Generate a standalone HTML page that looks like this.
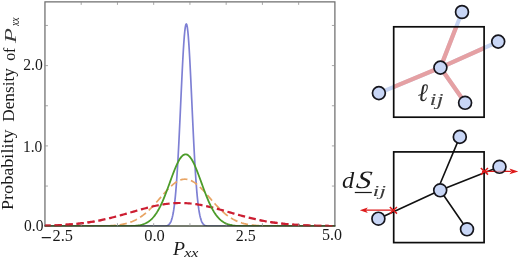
<!DOCTYPE html><html><head><meta charset="utf-8"><style>html,body{margin:0;padding:0;background:#fff;}svg{display:block;}</style></head><body><svg width="520" height="259" viewBox="0 0 520 259">
<rect width="520" height="259" fill="#fff"/>
<defs>
<clipPath id="ax"><rect x="44.95" y="1.9" width="289.95" height="224.29999999999998"/></clipPath>
<clipPath id="bs"><rect x="44.95" y="221" width="289.95" height="5.4999999999999885"/></clipPath>
<clipPath id="b1"><rect x="393.7" y="26.8" width="90.40000000000003" height="90.4"/></clipPath>
</defs>
<g clip-path="url(#ax)" fill="none" stroke-linejoin="round">
<path d="M44.95,226.20 126.30,226.20 126.80,226.20 127.30,226.20 127.80,226.20 128.30,226.20 128.80,226.20 129.30,226.20 129.80,226.20 130.30,226.20 130.80,226.20 131.30,226.20 131.80,226.20 132.30,226.20 132.80,226.20 133.30,226.20 133.80,226.20 134.30,226.20 134.80,226.20 135.30,226.20 135.80,226.20 136.30,226.20 136.80,226.20 137.30,226.20 137.80,226.20 138.30,226.20 138.80,226.20 139.30,226.20 139.80,226.20 140.30,226.20 140.80,226.20 141.30,226.20 141.80,226.20 142.30,226.20 142.80,226.20 143.30,226.20 143.80,226.20 144.30,226.20 144.80,226.20 145.30,226.20 145.80,226.20 146.30,226.20 146.80,226.20 147.30,226.20 147.80,226.20 148.30,226.20 148.80,226.20 149.30,226.20 149.80,226.20 150.30,226.20 150.80,226.20 151.30,226.20 151.80,226.20 152.30,226.20 152.80,226.20 153.30,226.20 153.80,226.20 154.30,226.20 154.80,226.20 155.30,226.20 155.80,226.20 156.30,226.20 156.80,226.20 157.30,226.20 157.80,226.20 158.30,226.20 158.80,226.20 159.30,226.20 159.80,226.20 160.30,226.20 160.80,226.19 161.30,226.19 161.80,226.19 162.30,226.18 162.80,226.17 163.30,226.16 163.80,226.14 164.30,226.11 164.80,226.07 165.30,226.02 165.80,225.95 166.30,225.86 166.80,225.73 167.30,225.56 167.80,225.34 168.30,225.05 168.80,224.67 169.30,224.18 169.80,223.56 170.30,222.79 170.80,221.81 171.30,220.60 171.80,219.12 172.30,217.31 172.80,215.13 173.30,212.53 173.80,209.45 174.30,205.83 174.80,201.64 175.30,196.81 175.80,191.32 176.30,185.13 176.80,178.22 177.30,170.59 177.80,162.27 178.30,153.28 178.80,143.69 179.30,133.58 179.80,123.06 180.30,112.25 180.80,101.31 181.30,90.40 181.80,79.72 182.30,69.45 182.80,59.79 183.30,50.94 183.80,43.09 184.30,36.40 184.80,31.03 185.30,27.10 185.80,24.70 186.30,23.90 186.80,24.70 187.30,27.10 187.80,31.03 188.30,36.40 188.80,43.09 189.30,50.94 189.80,59.79 190.30,69.45 190.80,79.72 191.30,90.40 191.80,101.31 192.30,112.25 192.80,123.06 193.30,133.58 193.80,143.69 194.30,153.28 194.80,162.27 195.30,170.59 195.80,178.22 196.30,185.13 196.80,191.32 197.30,196.81 197.80,201.64 198.30,205.83 198.80,209.45 199.30,212.53 199.80,215.13 200.30,217.31 200.80,219.12 201.30,220.60 201.80,221.81 202.30,222.79 202.80,223.56 203.30,224.18 203.80,224.67 204.30,225.05 204.80,225.34 205.30,225.56 205.80,225.73 206.30,225.86 206.80,225.95 207.30,226.02 207.80,226.07 208.30,226.11 208.80,226.14 209.30,226.16 209.80,226.17 210.30,226.18 210.80,226.19 211.30,226.19 211.80,226.19 212.30,226.20 212.80,226.20 213.30,226.20 213.80,226.20 214.30,226.20 214.80,226.20 215.30,226.20 215.80,226.20 216.30,226.20 216.80,226.20 217.30,226.20 217.80,226.20 218.30,226.20 218.80,226.20 219.30,226.20 219.80,226.20 220.30,226.20 220.80,226.20 221.30,226.20 221.80,226.20 222.30,226.20 222.80,226.20 223.30,226.20 223.80,226.20 224.30,226.20 224.80,226.20 225.30,226.20 225.80,226.20 226.30,226.20 226.80,226.20 227.30,226.20 227.80,226.20 228.30,226.20 228.80,226.20 229.30,226.20 229.80,226.20 230.30,226.20 230.80,226.20 231.30,226.20 231.80,226.20 232.30,226.20 232.80,226.20 233.30,226.20 233.80,226.20 234.30,226.20 234.80,226.20 235.30,226.20 235.80,226.20 236.30,226.20 236.80,226.20 237.30,226.20 237.80,226.20 238.30,226.20 238.80,226.20 239.30,226.20 239.80,226.20 240.30,226.20 240.80,226.20 241.30,226.20 241.80,226.20 242.30,226.20 242.80,226.20 243.30,226.20 243.80,226.20 244.30,226.20 244.80,226.20 245.30,226.20 245.80,226.20 246.30,226.20 334.90,226.20" stroke="#7e80d4" stroke-width="1.7" stroke-linejoin="round"/>
<path d="M44.95,226.20 46.07,226.20 47.19,226.20 48.31,226.20 49.43,226.20 50.55,226.20 51.67,226.20 52.79,226.20 53.91,226.20 55.03,226.20 56.14,226.20 57.26,226.20 58.38,226.20 59.50,226.20 60.62,226.20 61.74,226.20 62.86,226.20 63.98,226.20 65.10,226.20 66.22,226.20 67.34,226.20 68.46,226.20 69.58,226.20 70.70,226.20 71.82,226.20 72.94,226.20 74.06,226.20 75.18,226.20 76.30,226.20 77.42,226.20 78.53,226.20 79.65,226.20 80.77,226.19 81.89,226.19 83.01,226.19 84.13,226.19 85.25,226.19 86.37,226.18 87.49,226.18 88.61,226.18 89.73,226.17 90.85,226.17 91.97,226.16 93.09,226.16 94.21,226.15 95.33,226.14 96.45,226.13 97.57,226.12 98.69,226.10 99.81,226.08 100.92,226.06 102.04,226.04 103.16,226.01 104.28,225.98 105.40,225.95 106.52,225.91 107.64,225.87 108.76,225.81 109.88,225.76 111.00,225.69 112.12,225.62 113.24,225.53 114.36,225.44 115.48,225.33 116.60,225.22 117.72,225.08 118.84,224.94 119.96,224.77 121.08,224.59 122.20,224.39 123.31,224.17 124.43,223.93 125.55,223.67 126.67,223.37 127.79,223.05 128.91,222.71 130.03,222.33 131.15,221.92 132.27,221.48 133.39,221.00 134.51,220.48 135.63,219.93 136.75,219.33 137.87,218.70 138.99,218.02 140.11,217.31 141.23,216.55 142.35,215.74 143.47,214.90 144.59,214.01 145.70,213.08 146.82,212.11 147.94,211.09 149.06,210.03 150.18,208.94 151.30,207.81 152.42,206.65 153.54,205.45 154.66,204.23 155.78,202.99 156.90,201.72 158.02,200.44 159.14,199.15 160.26,197.86 161.38,196.56 162.50,195.27 163.62,193.98 164.74,192.72 165.86,191.47 166.98,190.26 168.09,189.09 169.21,187.95 170.33,186.86 171.45,185.82 172.57,184.83 173.69,183.91 174.81,183.06 175.93,182.29 177.05,181.59 178.17,180.98 179.29,180.45 180.41,180.01 181.53,179.67 182.65,179.41 183.77,179.26 184.89,179.20 186.01,179.24 187.13,179.38 188.25,179.61 189.37,179.94 190.48,180.35 191.60,180.86 192.72,181.46 193.84,182.14 194.96,182.90 196.08,183.73 197.20,184.64 198.32,185.61 199.44,186.64 200.56,187.72 201.68,188.85 202.80,190.03 203.92,191.23 205.04,192.47 206.16,193.73 207.28,195.01 208.40,196.30 209.52,197.60 210.64,198.90 211.76,200.19 212.87,201.46 213.99,202.73 215.11,203.98 216.23,205.20 217.35,206.40 218.47,207.57 219.59,208.71 220.71,209.81 221.83,210.88 222.95,211.90 224.07,212.88 225.19,213.83 226.31,214.72 227.43,215.58 228.55,216.39 229.67,217.16 230.79,217.89 231.91,218.57 233.03,219.21 234.15,219.81 235.26,220.37 236.38,220.89 237.50,221.38 238.62,221.83 239.74,222.25 240.86,222.63 241.98,222.99 243.10,223.31 244.22,223.61 245.34,223.88 246.46,224.13 247.58,224.35 248.70,224.56 249.82,224.74 250.94,224.91 252.06,225.06 253.18,225.19 254.30,225.31 255.42,225.42 256.54,225.52 257.65,225.60 258.77,225.68 259.89,225.74 261.01,225.80 262.13,225.86 263.25,225.90 264.37,225.94 265.49,225.98 266.61,226.01 267.73,226.04 268.85,226.06 269.97,226.08 271.09,226.10 272.21,226.11 273.33,226.13 274.45,226.14 275.57,226.15 276.69,226.15 277.81,226.16 278.93,226.17 280.04,226.17 281.16,226.18 282.28,226.18 283.40,226.18 284.52,226.19 285.64,226.19 286.76,226.19 287.88,226.19 289.00,226.19 290.12,226.19 291.24,226.20 292.36,226.20 293.48,226.20 294.60,226.20 295.72,226.20 296.84,226.20 297.96,226.20 299.08,226.20 300.20,226.20 301.32,226.20 302.43,226.20 303.55,226.20 304.67,226.20 305.79,226.20 306.91,226.20 308.03,226.20 309.15,226.20 310.27,226.20 311.39,226.20 312.51,226.20 313.63,226.20 314.75,226.20 315.87,226.20 316.99,226.20 318.11,226.20 319.23,226.20 320.35,226.20 321.47,226.20 322.59,226.20 323.71,226.20 324.82,226.20 325.94,226.20 327.06,226.20 328.18,226.20 329.30,226.20 330.42,226.20 331.54,226.20 332.66,226.20 333.78,226.20 334.90,226.20" stroke="#e8a464" stroke-width="1.7" stroke-dasharray="7.3,3.72" stroke-dashoffset="2.44"/>
<path d="M44.95,225.72 46.07,225.69 47.19,225.65 48.31,225.62 49.43,225.58 50.55,225.54 51.67,225.50 52.79,225.46 53.91,225.41 55.03,225.36 56.14,225.31 57.26,225.26 58.38,225.20 59.50,225.14 60.62,225.08 61.74,225.02 62.86,224.95 63.98,224.88 65.10,224.80 66.22,224.72 67.34,224.64 68.46,224.56 69.58,224.47 70.70,224.38 71.82,224.28 72.94,224.18 74.06,224.07 75.18,223.96 76.30,223.85 77.42,223.73 78.53,223.61 79.65,223.48 80.77,223.35 81.89,223.21 83.01,223.07 84.13,222.93 85.25,222.77 86.37,222.62 87.49,222.45 88.61,222.29 89.73,222.11 90.85,221.94 91.97,221.75 93.09,221.56 94.21,221.37 95.33,221.17 96.45,220.96 97.57,220.75 98.69,220.54 99.81,220.31 100.92,220.09 102.04,219.86 103.16,219.62 104.28,219.37 105.40,219.12 106.52,218.87 107.64,218.61 108.76,218.35 109.88,218.08 111.00,217.81 112.12,217.53 113.24,217.25 114.36,216.96 115.48,216.67 116.60,216.37 117.72,216.07 118.84,215.77 119.96,215.47 121.08,215.16 122.20,214.85 123.31,214.53 124.43,214.22 125.55,213.90 126.67,213.58 127.79,213.26 128.91,212.94 130.03,212.61 131.15,212.29 132.27,211.96 133.39,211.64 134.51,211.32 135.63,210.99 136.75,210.67 137.87,210.35 138.99,210.03 140.11,209.72 141.23,209.41 142.35,209.10 143.47,208.79 144.59,208.49 145.70,208.19 146.82,207.90 147.94,207.61 149.06,207.33 150.18,207.05 151.30,206.78 152.42,206.52 153.54,206.26 154.66,206.01 155.78,205.77 156.90,205.54 158.02,205.31 159.14,205.10 160.26,204.89 161.38,204.69 162.50,204.51 163.62,204.33 164.74,204.16 165.86,204.00 166.98,203.86 168.09,203.72 169.21,203.60 170.33,203.48 171.45,203.38 172.57,203.29 173.69,203.21 174.81,203.15 175.93,203.09 177.05,203.05 178.17,203.02 179.29,203.01 180.41,203.00 181.53,203.01 182.65,203.03 183.77,203.06 184.89,203.10 186.01,203.16 187.13,203.23 188.25,203.31 189.37,203.40 190.48,203.50 191.60,203.62 192.72,203.75 193.84,203.88 194.96,204.03 196.08,204.19 197.20,204.36 198.32,204.54 199.44,204.73 200.56,204.93 201.68,205.14 202.80,205.36 203.92,205.58 205.04,205.82 206.16,206.06 207.28,206.31 208.40,206.57 209.52,206.84 210.64,207.11 211.76,207.39 212.87,207.67 213.99,207.96 215.11,208.25 216.23,208.55 217.35,208.85 218.47,209.16 219.59,209.47 220.71,209.78 221.83,210.10 222.95,210.41 224.07,210.73 225.19,211.06 226.31,211.38 227.43,211.70 228.55,212.03 229.67,212.35 230.79,212.68 231.91,213.00 233.03,213.32 234.15,213.64 235.26,213.96 236.38,214.28 237.50,214.59 238.62,214.91 239.74,215.22 240.86,215.53 241.98,215.83 243.10,216.13 244.22,216.43 245.34,216.72 246.46,217.02 247.58,217.30 248.70,217.58 249.82,217.86 250.94,218.13 252.06,218.40 253.18,218.66 254.30,218.92 255.42,219.17 256.54,219.42 257.65,219.66 258.77,219.90 259.89,220.13 261.01,220.36 262.13,220.58 263.25,220.79 264.37,221.00 265.49,221.21 266.61,221.41 267.73,221.60 268.85,221.79 269.97,221.97 271.09,222.15 272.21,222.32 273.33,222.49 274.45,222.65 275.57,222.80 276.69,222.95 277.81,223.10 278.93,223.24 280.04,223.38 281.16,223.51 282.28,223.63 283.40,223.76 284.52,223.87 285.64,223.99 286.76,224.09 287.88,224.20 289.00,224.30 290.12,224.39 291.24,224.49 292.36,224.57 293.48,224.66 294.60,224.74 295.72,224.82 296.84,224.89 297.96,224.96 299.08,225.03 300.20,225.09 301.32,225.16 302.43,225.21 303.55,225.27 304.67,225.32 305.79,225.37 306.91,225.42 308.03,225.47 309.15,225.51 310.27,225.55 311.39,225.59 312.51,225.63 313.63,225.66 314.75,225.69 315.87,225.73 316.99,225.76 318.11,225.78 319.23,225.81 320.35,225.84 321.47,225.86 322.59,225.88 323.71,225.90 324.82,225.92 325.94,225.94 327.06,225.96 328.18,225.97 329.30,225.99 330.42,226.00 331.54,226.02 332.66,226.03 333.78,226.04 334.90,226.05" stroke="#cc1e32" stroke-width="2.2" stroke-dasharray="7.3,3.72" stroke-dashoffset="1.45"/>
<path d="M44.95,226.20 46.07,226.20 47.19,226.20 48.31,226.20 49.43,226.20 50.55,226.20 51.67,226.20 52.79,226.20 53.91,226.20 55.03,226.20 56.14,226.20 57.26,226.20 58.38,226.20 59.50,226.20 60.62,226.20 61.74,226.20 62.86,226.20 63.98,226.20 65.10,226.20 66.22,226.20 67.34,226.20 68.46,226.20 69.58,226.20 70.70,226.20 71.82,226.20 72.94,226.20 74.06,226.20 75.18,226.20 76.30,226.20 77.42,226.20 78.53,226.20 79.65,226.20 80.77,226.20 81.89,226.20 83.01,226.20 84.13,226.20 85.25,226.20 86.37,226.20 87.49,226.20 88.61,226.20 89.73,226.20 90.85,226.20 91.97,226.20 93.09,226.20 94.21,226.20 95.33,226.20 96.45,226.20 97.57,226.20 98.69,226.20 99.81,226.20 100.92,226.20 102.04,226.20 103.16,226.20 104.28,226.20 105.40,226.20 106.52,226.20 107.64,226.20 108.76,226.20 109.88,226.20 111.00,226.20 112.12,226.20 113.24,226.20 114.36,226.20 115.48,226.20 116.60,226.19 117.72,226.19 118.84,226.19 119.96,226.19 121.08,226.18 122.20,226.18 123.31,226.17 124.43,226.16 125.55,226.15 126.67,226.13 127.79,226.11 128.91,226.08 130.03,226.05 131.15,226.01 132.27,225.96 133.39,225.89 134.51,225.81 135.63,225.72 136.75,225.60 137.87,225.45 138.99,225.27 140.11,225.06 141.23,224.81 142.35,224.50 143.47,224.14 144.59,223.72 145.70,223.24 146.82,222.66 147.94,222.00 149.06,221.24 150.18,220.37 151.30,219.39 152.42,218.27 153.54,217.02 154.66,215.63 155.78,214.09 156.90,212.39 158.02,210.53 159.14,208.51 160.26,206.33 161.38,203.99 162.50,201.51 163.62,198.88 164.74,196.12 165.86,193.26 166.98,190.30 168.09,187.29 169.21,184.22 170.33,181.13 171.45,178.05 172.57,175.03 173.69,172.08 174.81,169.25 175.93,166.58 177.05,164.09 178.17,161.83 179.29,159.81 180.41,158.08 181.53,156.65 182.65,155.54 183.77,154.78 184.89,154.37 186.01,154.32 187.13,154.64 188.25,155.30 189.37,156.32 190.48,157.65 191.60,159.30 192.72,161.24 193.84,163.44 194.96,165.87 196.08,168.50 197.20,171.29 198.32,174.20 199.44,177.21 200.56,180.27 201.68,183.36 202.80,186.44 203.92,189.49 205.04,192.47 206.16,195.37 207.28,198.15 208.40,200.82 209.52,203.34 210.64,205.72 211.76,207.94 212.87,209.99 213.99,211.89 215.11,213.63 216.23,215.22 217.35,216.65 218.47,217.94 219.59,219.09 220.71,220.11 221.83,221.01 222.95,221.80 224.07,222.49 225.19,223.09 226.31,223.60 227.43,224.04 228.55,224.41 229.67,224.73 230.79,225.00 231.91,225.22 233.03,225.41 234.15,225.56 235.26,225.69 236.38,225.79 237.50,225.87 238.62,225.94 239.74,226.00 240.86,226.04 241.98,226.08 243.10,226.10 244.22,226.13 245.34,226.14 246.46,226.16 247.58,226.17 248.70,226.18 249.82,226.18 250.94,226.19 252.06,226.19 253.18,226.19 254.30,226.19 255.42,226.20 256.54,226.20 257.65,226.20 258.77,226.20 259.89,226.20 261.01,226.20 262.13,226.20 263.25,226.20 264.37,226.20 265.49,226.20 266.61,226.20 267.73,226.20 268.85,226.20 269.97,226.20 271.09,226.20 272.21,226.20 273.33,226.20 274.45,226.20 275.57,226.20 276.69,226.20 277.81,226.20 278.93,226.20 280.04,226.20 281.16,226.20 282.28,226.20 283.40,226.20 284.52,226.20 285.64,226.20 286.76,226.20 287.88,226.20 289.00,226.20 290.12,226.20 291.24,226.20 292.36,226.20 293.48,226.20 294.60,226.20 295.72,226.20 296.84,226.20 297.96,226.20 299.08,226.20 300.20,226.20 301.32,226.20 302.43,226.20 303.55,226.20 304.67,226.20 305.79,226.20 306.91,226.20 308.03,226.20 309.15,226.20 310.27,226.20 311.39,226.20 312.51,226.20 313.63,226.20 314.75,226.20 315.87,226.20 316.99,226.20 318.11,226.20 319.23,226.20 320.35,226.20 321.47,226.20 322.59,226.20 323.71,226.20 324.82,226.20 325.94,226.20 327.06,226.20 328.18,226.20 329.30,226.20 330.42,226.20 331.54,226.20 332.66,226.20 333.78,226.20 334.90,226.20" stroke="#4c9c2a" stroke-width="1.8"/>
</g>
<path d="M44.95,226.2V1.9H334.9V226.2" fill="none" stroke="#6e6e6e" stroke-width="1.25"/>
<path d="M44.35,226.1H335.5" fill="none" stroke="#26301c" stroke-opacity="0.85" stroke-width="1.5"/>
<path clip-path="url(#bs)" d="M44.95,225.72 46.07,225.69 47.19,225.65 48.31,225.62 49.43,225.58 50.55,225.54 51.67,225.50 52.79,225.46 53.91,225.41 55.03,225.36 56.14,225.31 57.26,225.26 58.38,225.20 59.50,225.14 60.62,225.08 61.74,225.02 62.86,224.95 63.98,224.88 65.10,224.80 66.22,224.72 67.34,224.64 68.46,224.56 69.58,224.47 70.70,224.38 71.82,224.28 72.94,224.18 74.06,224.07 75.18,223.96 76.30,223.85 77.42,223.73 78.53,223.61 79.65,223.48 80.77,223.35 81.89,223.21 83.01,223.07 84.13,222.93 85.25,222.77 86.37,222.62 87.49,222.45 88.61,222.29 89.73,222.11 90.85,221.94 91.97,221.75 93.09,221.56 94.21,221.37 95.33,221.17 96.45,220.96 97.57,220.75 98.69,220.54 99.81,220.31 100.92,220.09 102.04,219.86 103.16,219.62 104.28,219.37 105.40,219.12 106.52,218.87 107.64,218.61 108.76,218.35 109.88,218.08 111.00,217.81 112.12,217.53 113.24,217.25 114.36,216.96 115.48,216.67 116.60,216.37 117.72,216.07 118.84,215.77 119.96,215.47 121.08,215.16 122.20,214.85 123.31,214.53 124.43,214.22 125.55,213.90 126.67,213.58 127.79,213.26 128.91,212.94 130.03,212.61 131.15,212.29 132.27,211.96 133.39,211.64 134.51,211.32 135.63,210.99 136.75,210.67 137.87,210.35 138.99,210.03 140.11,209.72 141.23,209.41 142.35,209.10 143.47,208.79 144.59,208.49 145.70,208.19 146.82,207.90 147.94,207.61 149.06,207.33 150.18,207.05 151.30,206.78 152.42,206.52 153.54,206.26 154.66,206.01 155.78,205.77 156.90,205.54 158.02,205.31 159.14,205.10 160.26,204.89 161.38,204.69 162.50,204.51 163.62,204.33 164.74,204.16 165.86,204.00 166.98,203.86 168.09,203.72 169.21,203.60 170.33,203.48 171.45,203.38 172.57,203.29 173.69,203.21 174.81,203.15 175.93,203.09 177.05,203.05 178.17,203.02 179.29,203.01 180.41,203.00 181.53,203.01 182.65,203.03 183.77,203.06 184.89,203.10 186.01,203.16 187.13,203.23 188.25,203.31 189.37,203.40 190.48,203.50 191.60,203.62 192.72,203.75 193.84,203.88 194.96,204.03 196.08,204.19 197.20,204.36 198.32,204.54 199.44,204.73 200.56,204.93 201.68,205.14 202.80,205.36 203.92,205.58 205.04,205.82 206.16,206.06 207.28,206.31 208.40,206.57 209.52,206.84 210.64,207.11 211.76,207.39 212.87,207.67 213.99,207.96 215.11,208.25 216.23,208.55 217.35,208.85 218.47,209.16 219.59,209.47 220.71,209.78 221.83,210.10 222.95,210.41 224.07,210.73 225.19,211.06 226.31,211.38 227.43,211.70 228.55,212.03 229.67,212.35 230.79,212.68 231.91,213.00 233.03,213.32 234.15,213.64 235.26,213.96 236.38,214.28 237.50,214.59 238.62,214.91 239.74,215.22 240.86,215.53 241.98,215.83 243.10,216.13 244.22,216.43 245.34,216.72 246.46,217.02 247.58,217.30 248.70,217.58 249.82,217.86 250.94,218.13 252.06,218.40 253.18,218.66 254.30,218.92 255.42,219.17 256.54,219.42 257.65,219.66 258.77,219.90 259.89,220.13 261.01,220.36 262.13,220.58 263.25,220.79 264.37,221.00 265.49,221.21 266.61,221.41 267.73,221.60 268.85,221.79 269.97,221.97 271.09,222.15 272.21,222.32 273.33,222.49 274.45,222.65 275.57,222.80 276.69,222.95 277.81,223.10 278.93,223.24 280.04,223.38 281.16,223.51 282.28,223.63 283.40,223.76 284.52,223.87 285.64,223.99 286.76,224.09 287.88,224.20 289.00,224.30 290.12,224.39 291.24,224.49 292.36,224.57 293.48,224.66 294.60,224.74 295.72,224.82 296.84,224.89 297.96,224.96 299.08,225.03 300.20,225.09 301.32,225.16 302.43,225.21 303.55,225.27 304.67,225.32 305.79,225.37 306.91,225.42 308.03,225.47 309.15,225.51 310.27,225.55 311.39,225.59 312.51,225.63 313.63,225.66 314.75,225.69 315.87,225.73 316.99,225.76 318.11,225.78 319.23,225.81 320.35,225.84 321.47,225.86 322.59,225.88 323.71,225.90 324.82,225.92 325.94,225.94 327.06,225.96 328.18,225.97 329.30,225.99 330.42,226.00 331.54,226.02 332.66,226.03 333.78,226.04 334.90,226.05" fill="none" stroke="#cc1e32" stroke-opacity="0.7" stroke-width="2.2" stroke-dasharray="7.3,3.72" stroke-dashoffset="1.45"/>
<path d="M81.19,226.2v-3M81.19,1.9v3M117.44,226.2v-3M117.44,1.9v3M153.68,226.2v-3M153.68,1.9v3M189.93,226.2v-3M189.93,1.9v3M226.17,226.2v-3M226.17,1.9v3M262.41,226.2v-3M262.41,1.9v3M298.66,226.2v-3M298.66,1.9v3M44.95,186.05h3M334.9,186.05h-3M44.95,145.90h3M334.9,145.90h-3M44.95,105.75h3M334.9,105.75h-3M44.95,65.60h3M334.9,65.60h-3M44.95,25.45h3M334.9,25.45h-3" stroke="#909090" stroke-width="0.8" fill="none"/>
<text x="41.05" y="243.85" font-size="18.9" font-family="Liberation Serif, serif" text-anchor="start" fill="#1a1a1a" stroke="#1a1a1a" stroke-width="0.3">−</text>
<text x="52.6" y="241.2" font-size="16.3" font-family="Liberation Serif, serif" textLength="20.4" lengthAdjust="spacingAndGlyphs" text-anchor="start" fill="#1a1a1a" >2.5</text>
<text x="144.2" y="240.8" font-size="16.3" font-family="Liberation Serif, serif" textLength="20.6" lengthAdjust="spacingAndGlyphs" text-anchor="start" fill="#1a1a1a" >0.0</text>
<text x="235.8" y="240.8" font-size="16.3" font-family="Liberation Serif, serif" textLength="20.0" lengthAdjust="spacingAndGlyphs" text-anchor="start" fill="#1a1a1a" >2.5</text>
<text x="322.0" y="240.4" font-size="16.3" font-family="Liberation Serif, serif" textLength="20.0" lengthAdjust="spacingAndGlyphs" text-anchor="start" fill="#1a1a1a" >5.0</text>
<text x="24.0" y="231.0" font-size="16.3" font-family="Liberation Serif, serif" textLength="19.4" lengthAdjust="spacingAndGlyphs" text-anchor="start" fill="#1a1a1a" >0.0</text>
<text x="22.9" y="151.8" font-size="16.3" font-family="Liberation Serif, serif" textLength="19.4" lengthAdjust="spacingAndGlyphs" text-anchor="start" fill="#1a1a1a" >1.0</text>
<text x="23.2" y="70.4" font-size="16.3" font-family="Liberation Serif, serif" textLength="19.6" lengthAdjust="spacingAndGlyphs" text-anchor="start" fill="#1a1a1a" >2.0</text>
<g transform="translate(13.4,210.0) rotate(-90)"><text x="0" y="0" font-size="16.5" font-family="Liberation Serif, serif" textLength="80.6" lengthAdjust="spacingAndGlyphs" text-anchor="start" fill="#1a1a1a" >Probability</text></g>
<g transform="translate(14.0,121.8) rotate(-90)"><text x="0" y="0" font-size="16.5" font-family="Liberation Serif, serif" textLength="53.8" lengthAdjust="spacingAndGlyphs" text-anchor="start" fill="#1a1a1a" >Density</text></g>
<g transform="translate(15.4,60.8) rotate(-90)"><text x="0" y="0" font-size="16.5" font-family="Liberation Serif, serif" textLength="13.2" lengthAdjust="spacingAndGlyphs" text-anchor="start" fill="#1a1a1a" >of</text></g>
<g transform="translate(15.6,42.9) rotate(-90)"><text x="0" y="0" font-size="17" font-family="Liberation Serif, serif" textLength="15.0" lengthAdjust="spacingAndGlyphs" font-style="italic" text-anchor="start" fill="#3a3a3a" >P</text></g>
<g transform="translate(18.8,26.0) rotate(-90)"><text x="0" y="0" font-size="13.5" font-family="Liberation Serif, serif" textLength="8.4" lengthAdjust="spacingAndGlyphs" font-style="italic" text-anchor="start" fill="#1a1a1a" >xx</text></g>
<text x="173.0" y="255.0" font-size="19.2" font-family="Liberation Serif, serif" textLength="12.0" lengthAdjust="spacingAndGlyphs" font-style="italic" text-anchor="start" fill="#1a1a1a" >P</text>
<text x="184.2" y="256.8" font-size="13.5" font-family="Liberation Serif, serif" textLength="14.2" lengthAdjust="spacingAndGlyphs" font-style="italic" text-anchor="start" fill="#1a1a1a" >xx</text>
<path d="M440.4,67.6L462,12M440.4,67.6L498.2,41.6M440.4,67.6L378.9,93.1M440.4,67.6L465.1,102.8" stroke="#c6d4f2" stroke-width="4.0" fill="none"/>
<path d="M440.4,67.6L462,12M440.4,67.6L498.2,41.6M440.4,67.6L378.9,93.1M440.4,67.6L465.1,102.8" stroke="#e5a0a3" stroke-width="4.3" fill="none" clip-path="url(#b1)"/>
<rect x="393.7" y="26.8" width="90.40000000000003" height="90.4" fill="none" stroke="#0c0c0c" stroke-width="1.7"/>
<circle cx="462" cy="12" r="6.45" fill="#c8d6f6" stroke="#15151c" stroke-width="1.7"/>
<circle cx="498.2" cy="41.6" r="6.45" fill="#c8d6f6" stroke="#15151c" stroke-width="1.7"/>
<circle cx="378.9" cy="93.1" r="6.45" fill="#c8d6f6" stroke="#15151c" stroke-width="1.7"/>
<circle cx="465.1" cy="102.8" r="6.45" fill="#c8d6f6" stroke="#15151c" stroke-width="1.7"/>
<circle cx="440.4" cy="67.6" r="6.45" fill="#c8d6f6" stroke="#15151c" stroke-width="1.7"/>
<text x="417.6" y="100.9" font-size="25" font-family="Liberation Serif, serif" font-style="italic" text-anchor="start" fill="#2a2a2a" >ℓ</text>
<text x="429.4" y="105.4" font-size="16.5" font-family="Liberation Serif, serif" textLength="14.2" lengthAdjust="spacingAndGlyphs" font-style="italic" text-anchor="start" fill="#444" >ij</text>
<path d="M440.2,190.3L499.5,166.8M440.2,190.3L378.4,218.7M440.2,190.3L467,229.3M437.4,190.3L459.8,136.9" stroke="#111" stroke-width="1.6" fill="none"/>
<rect x="393.7" y="151.9" width="90.40000000000003" height="90.69999999999999" fill="none" stroke="#0c0c0c" stroke-width="1.7"/>
<path d="M482,171.4H511M394.5,210.2H366" stroke="#dd1a1a" stroke-width="1.3" fill="none"/><path d="M518.3,171.4L509.4,168.6L511.6,171.4L509.4,174.2Z M359.8,210.2L367.8,207.4L365.8,210.2L367.8,213.0Z" fill="#dd1a1a"/><path d="M480.8,168.0l7.2,6.6m0,-6.6l-7.2,6.6M389.8,207.0l7.2,6.6m0,-6.6l-7.2,6.6" stroke="#dd1a1a" stroke-width="1.45"/>
<circle cx="459.8" cy="136.9" r="6.45" fill="#c8d6f6" stroke="#15151c" stroke-width="1.7"/>
<circle cx="499.5" cy="166.8" r="6.45" fill="#c8d6f6" stroke="#15151c" stroke-width="1.7"/>
<circle cx="378.4" cy="218.7" r="6.45" fill="#c8d6f6" stroke="#15151c" stroke-width="1.7"/>
<circle cx="467" cy="229.3" r="6.45" fill="#c8d6f6" stroke="#15151c" stroke-width="1.7"/>
<circle cx="440.2" cy="190.3" r="6.45" fill="#c8d6f6" stroke="#15151c" stroke-width="1.7"/>
<path d="M490,171.4H508" stroke="#dd1a1a" stroke-width="1.15" stroke-opacity="0.35"/>
<text x="342.0" y="187.6" font-size="24" font-family="Liberation Serif, serif" textLength="12.2" lengthAdjust="spacingAndGlyphs" font-style="italic" text-anchor="start" fill="#1a1a1a" >d</text>
<g transform="translate(355.6,187.6) skewX(-9)"><text x="0" y="0" font-size="25" font-family="Liberation Serif, serif" textLength="15.0" lengthAdjust="spacingAndGlyphs" font-style="italic" text-anchor="start" fill="#1a1a1a" >S</text></g>
<rect x="354.8" y="191.9" width="17" height="1.2" fill="#1a1a1a"/>
<text x="372.4" y="195.6" font-size="15.5" font-family="Liberation Serif, serif" textLength="13.8" lengthAdjust="spacingAndGlyphs" font-style="italic" text-anchor="start" fill="#3a3a3a" >ij</text>
</svg></body></html>
